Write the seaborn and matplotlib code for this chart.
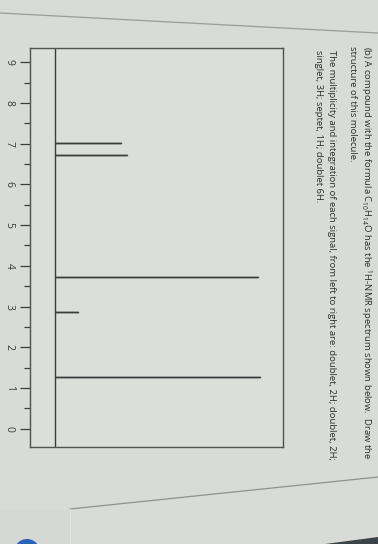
import matplotlib
matplotlib.use("Agg")
import matplotlib.pyplot as plt
from matplotlib.lines import Line2D
from matplotlib.patches import Ellipse, Rectangle, Polygon
import numpy as np
import pandas as pd
import seaborn as sns

# ---- data ----
peak_ppm = [7.02, 6.71, 3.72, 2.86, 1.28]          # chemical shift of each signal
peak_height = [0.32, 0.35, 0.99, 0.11, 1.00]        # relative intensity
tick_ppm = [9, 8, 7, 6, 5, 4, 3, 2, 1, 0]
tick_labels = ["9", "8", "7", "6", "5", "4", "3", "2", "1", "0"]
ppm_top, ppm_bottom = 9.35, -0.45

question = [
    r"(b) A compound with the formula C$_{10}$H$_{14}$O has the $^{1}$H-NMR spectrum shown below.  Draw the",
    "structure of this molecule.",
    "The multiplicity and integration of each signal, from left to right are: doublet, 2H; doublet, 2H;",
    "singlet, 3H; septet, 1H; doublet 6H.",
]

sns.set_theme(style="white")
plt.rcParams["font.family"] = ["Open Sans", "DejaVu Sans"]
plt.rcParams["mathtext.fontset"] = "custom"
plt.rcParams["mathtext.rm"] = "Open Sans"
plt.rcParams["mathtext.it"] = "Open Sans"

bg = "#d9dbd7"
ink = "#3c3d3c"
W, H = 378, 544
fig = plt.figure(figsize=(W / 100, H / 100), dpi=100, facecolor=bg)

def fx(px):
    return px / W

def fy(py):
    return 1 - py / H

# spectrum trace: baseline with a spike per signal (drawn sideways, page is rotated)
xs, ys = [0.0], [ppm_top]
for p, h in sorted(zip(peak_ppm, peak_height), key=lambda t: -t[0]):
    xs += [0.0, h, 0.0]
    ys += [p, p, p]
xs.append(0.0)
ys.append(ppm_bottom)
df = pd.DataFrame({"intensity": xs, "ppm": ys})

ax = fig.add_axes([fx(30), fy(447), fx(283 - 30), fy(48) - fy(447)])
ax.set_facecolor("#dcdeda")
sns.lineplot(data=df, x="intensity", y="ppm", sort=False, estimator=None,
             orient="y", color=ink, lw=1.0, ax=ax)
ax.set_ylim(ppm_bottom, ppm_top)
ax.set_xlim(-0.122, 1.112)
ax.set_xlabel("")
ax.set_ylabel("")
ax.set_xticks([])
ax.set_yticks(tick_ppm)
ax.set_yticklabels(tick_labels, rotation=270, va="center", fontsize=7.5, color="#3a3a3a")
ax.set_yticks([t + 0.5 for t in tick_ppm[1:]], minor=True)
ax.tick_params(axis="y", which="major", direction="out", length=7, width=0.9,
               color=ink, left=True, pad=4)
ax.tick_params(axis="y", which="minor", direction="out", length=4, width=0.9,
               color=ink, left=True)
for s in ax.spines.values():
    s.set_color("#505150")
    s.set_linewidth(1.0)

# question text (rotated with the page)
xs_text = [366, 352, 331, 319]
ys_text = [46, 46, 50, 50]
for s, x, y in zip(question, xs_text, ys_text):
    fig.text(fx(x), fy(y), s, rotation=270, ha="center", va="top",
             fontsize=6.8, color="#2e2f2e")

# page edges from the photo
fig.add_artist(Line2D([fx(0), fx(378)], [fy(13), fy(33)], color="#9a9c98", lw=0.9))
fig.add_artist(Line2D([fx(70), fx(378)], [fy(509), fy(477)], color="#8f918d", lw=0.9))
fig.add_artist(Rectangle((0, 0), fx(70), fy(509), color="#d6d8d4", lw=0))
fig.add_artist(Line2D([fx(70), fx(70)], [fy(509), 0], color="#e6e7e4", lw=0.8))
fig.add_artist(Ellipse((fx(27), fy(552)), fx(26), 1 - fy(26), color="#2a64b8", lw=0))
fig.add_artist(Polygon([(fx(325), 0), (fx(378), fy(537)), (fx(378), 0)],
                       closed=True, color="#3b4448", lw=0))

fig.savefig("out.png", dpi=100, facecolor=bg)
